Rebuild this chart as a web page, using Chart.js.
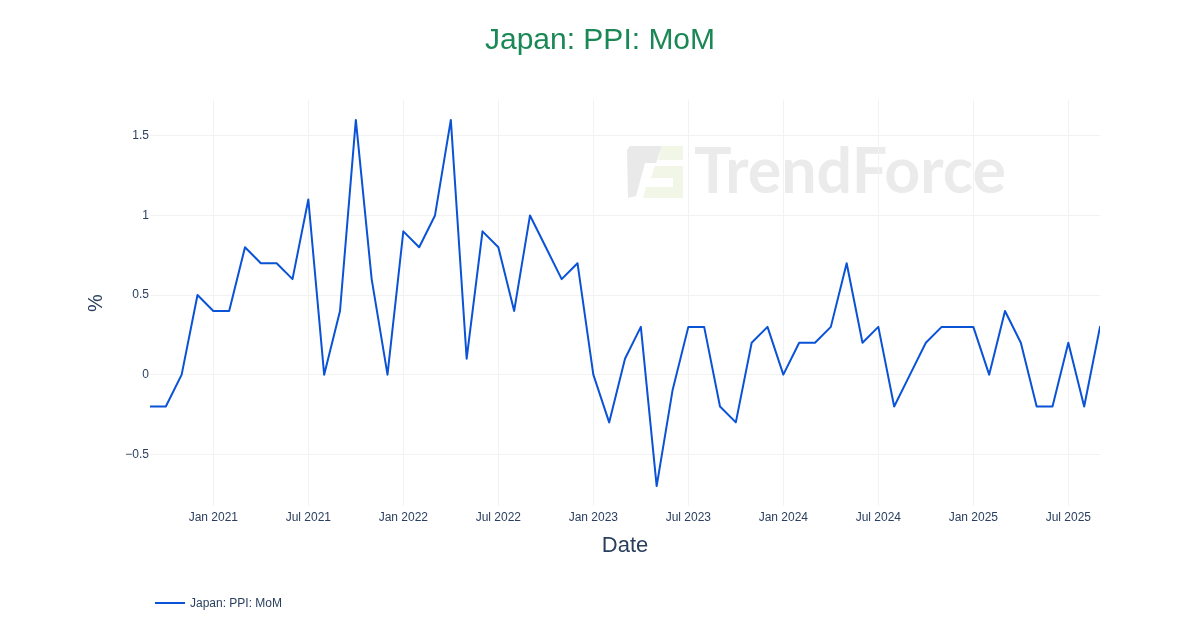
<!DOCTYPE html>
<html>
<head>
<meta charset="utf-8">
<script src="https://cdn.jsdelivr.net/npm/chart.js@4.4.1/dist/chart.umd.min.js"></script>
<style>
  html, body { margin: 0; padding: 0; background: #ffffff; }
  #wrap { width: 1200px; height: 630px; position: relative; }
</style>
</head>
<body>
<div id="wrap"><canvas id="c" width="1200" height="630"></canvas></div>
<script>
// ---- data ----
const chartTitle = "Japan: PPI: MoM";
const seriesName = "Japan: PPI: MoM";
const months = [
  "2020-09","2020-10","2020-11","2020-12",
  "2021-01","2021-02","2021-03","2021-04","2021-05","2021-06","2021-07","2021-08","2021-09","2021-10","2021-11","2021-12",
  "2022-01","2022-02","2022-03","2022-04","2022-05","2022-06","2022-07","2022-08","2022-09","2022-10","2022-11","2022-12",
  "2023-01","2023-02","2023-03","2023-04","2023-05","2023-06","2023-07","2023-08","2023-09","2023-10","2023-11","2023-12",
  "2024-01","2024-02","2024-03","2024-04","2024-05","2024-06","2024-07","2024-08","2024-09","2024-10","2024-11","2024-12",
  "2025-01","2025-02","2025-03","2025-04","2025-05","2025-06","2025-07","2025-08","2025-09"
];
const ppiMoM = [
  -0.2, -0.2, 0.0, 0.5,
  0.4, 0.4, 0.8, 0.7, 0.7, 0.6, 1.1, 0.0, 0.4, 1.6, 0.6, 0.0,
  0.9, 0.8, 1.0, 1.6, 0.1, 0.9, 0.8, 0.4, 1.0, 0.8, 0.6, 0.7,
  0.0, -0.3, 0.1, 0.3, -0.7, -0.1, 0.3, 0.3, -0.2, -0.3, 0.2, 0.3,
  0.0, 0.2, 0.2, 0.3, 0.7, 0.2, 0.3, -0.2, 0.0, 0.2, 0.3, 0.3,
  0.3, 0.0, 0.4, 0.2, -0.2, -0.2, 0.2, -0.2, 0.3
];
const xTickMonths = ["2021-01","2021-07","2022-01","2022-07","2023-01","2023-07","2024-01","2024-07","2025-01","2025-07"];
const xTickLabels = ["Jan 2021","Jul 2021","Jan 2022","Jul 2022","Jan 2023","Jul 2023","Jan 2024","Jul 2024","Jan 2025","Jul 2025"];
const yTickValues = [-0.5, 0, 0.5, 1, 1.5];

// ---- helpers ----
function monthIndex(s) {
  const [y, m] = s.split("-").map(Number);
  const [y0, m0] = months[0].split("-").map(Number);
  return (y - y0) * 12 + (m - m0);
}
const points = months.map((m, i) => ({ x: monthIndex(m), y: ppiMoM[i] }));
const xTickPos = xTickMonths.map(monthIndex);

const FONT = "'Liberation Sans', Arial, sans-serif";
const TEXT = "#2a3f5f";
const LINE = "#0a52d6";

const decorPlugin = {
  id: "decor",
  beforeDraw(chart) {
    const ctx = chart.ctx;
    ctx.save();
    ctx.fillStyle = "#ffffff";
    ctx.fillRect(0, 0, chart.width, chart.height);
    // watermark logo
    ctx.fillStyle = "#e9e9e9";
    ctx.beginPath();
    ctx.moveTo(630, 146); ctx.lineTo(662, 146); ctx.lineTo(656, 163); ctx.lineTo(645, 163);
    ctx.lineTo(636, 196); ctx.lineTo(628, 198); ctx.lineTo(627, 150); ctx.closePath();
    ctx.fill();
    ctx.fillStyle = "#f1f6e6";
    ctx.beginPath();
    ctx.moveTo(662, 146); ctx.lineTo(683, 146); ctx.lineTo(683, 160); ctx.lineTo(658, 160); ctx.closePath();
    ctx.fill();
    ctx.beginPath();
    ctx.moveTo(655, 166); ctx.lineTo(683, 166); ctx.lineTo(683, 198); ctx.lineTo(643, 198);
    ctx.lineTo(646, 187); ctx.lineTo(673, 187); ctx.lineTo(673, 178); ctx.lineTo(651, 178); ctx.closePath();
    ctx.fill();
    // watermark text, fitted to width
    ctx.fillStyle = "#ebebeb";
    let size = 58;
    ctx.font = "bold " + size + "px Lato, 'Noto Sans', sans-serif";
    const w = ctx.measureText("TrendForce").width;
    size = size * 312 / w;
    ctx.font = "bold " + size.toFixed(1) + "px Lato, 'Noto Sans', sans-serif";
    ctx.textBaseline = "alphabetic";
    ctx.textAlign = "left";
    ctx.fillText("TrendForce", 694, 193);
    ctx.restore();
  },
  afterDraw(chart) {
    const ctx = chart.ctx;
    ctx.save();
    // title
    ctx.fillStyle = "#1a8754";
    ctx.font = "30px " + FONT;
    ctx.textAlign = "center";
    ctx.textBaseline = "middle";
    ctx.fillText(chartTitle, 600, 41);
    // legend
    const ds = chart.data.datasets[0];
    ctx.strokeStyle = ds.borderColor;
    ctx.lineWidth = 2;
    ctx.beginPath();
    ctx.moveTo(155, 603); ctx.lineTo(185, 603);
    ctx.stroke();
    ctx.fillStyle = TEXT;
    ctx.font = "12px " + FONT;
    ctx.textAlign = "left";
    ctx.textBaseline = "middle";
    ctx.fillText(ds.label, 190, 604);
    ctx.restore();
  }
};

new Chart(document.getElementById("c"), {
  type: "line",
  data: {
    datasets: [{
      label: seriesName,
      data: points,
      borderColor: LINE,
      backgroundColor: LINE,
      borderWidth: 2,
      borderJoinStyle: "round",
      borderCapStyle: "round",
      pointRadius: 0,
      pointHoverRadius: 0,
      tension: 0,
      fill: false
    }]
  },
  options: {
    responsive: false,
    animation: false,
    devicePixelRatio: 1,
    layout: { padding: { top: 100, right: 100, left: 0, bottom: 0 } },
    plugins: {
      legend: { display: false },
      title: { display: false },
      tooltip: { enabled: false }
    },
    scales: {
      x: {
        type: "linear",
        min: 0,
        max: monthIndex(months[months.length - 1]),
        afterFit(scale) { scale.height = 124; },
        afterBuildTicks(scale) { scale.ticks = xTickPos.map(v => ({ value: v })); },
        border: { display: false },
        grid: { color: "#f2f2f2", lineWidth: 1, drawTicks: false },
        ticks: {
          autoSkip: false,
          maxRotation: 0,
          padding: 4,
          color: TEXT,
          font: { family: FONT, size: 12 },
          callback(value) {
            const i = xTickPos.indexOf(value);
            return i >= 0 ? xTickLabels[i] : "";
          }
        },
        title: {
          display: true,
          text: "Date",
          color: TEXT,
          font: { family: FONT, size: 22 },
          padding: { top: 0, bottom: 71 }
        }
      },
      y: {
        type: "linear",
        min: -0.825,
        max: 1.725,
        afterFit(scale) { scale.width = 150; },
        afterBuildTicks(scale) { scale.ticks = yTickValues.map(v => ({ value: v })); },
        border: { display: false },
        grid: { color: "#f2f2f2", lineWidth: 1, drawTicks: false },
        ticks: {
          padding: 1,
          color: TEXT,
          font: { family: FONT, size: 12 },
          callback(value) {
            return value < 0 ? "\u2212" + Math.abs(value) : String(value);
          }
        },
        title: {
          display: true,
          text: "%",
          color: TEXT,
          font: { family: FONT, size: 20 },
          padding: { top: 84, bottom: 0 }
        }
      }
    }
  },
  plugins: [decorPlugin]
});
</script>
</body>
</html>
